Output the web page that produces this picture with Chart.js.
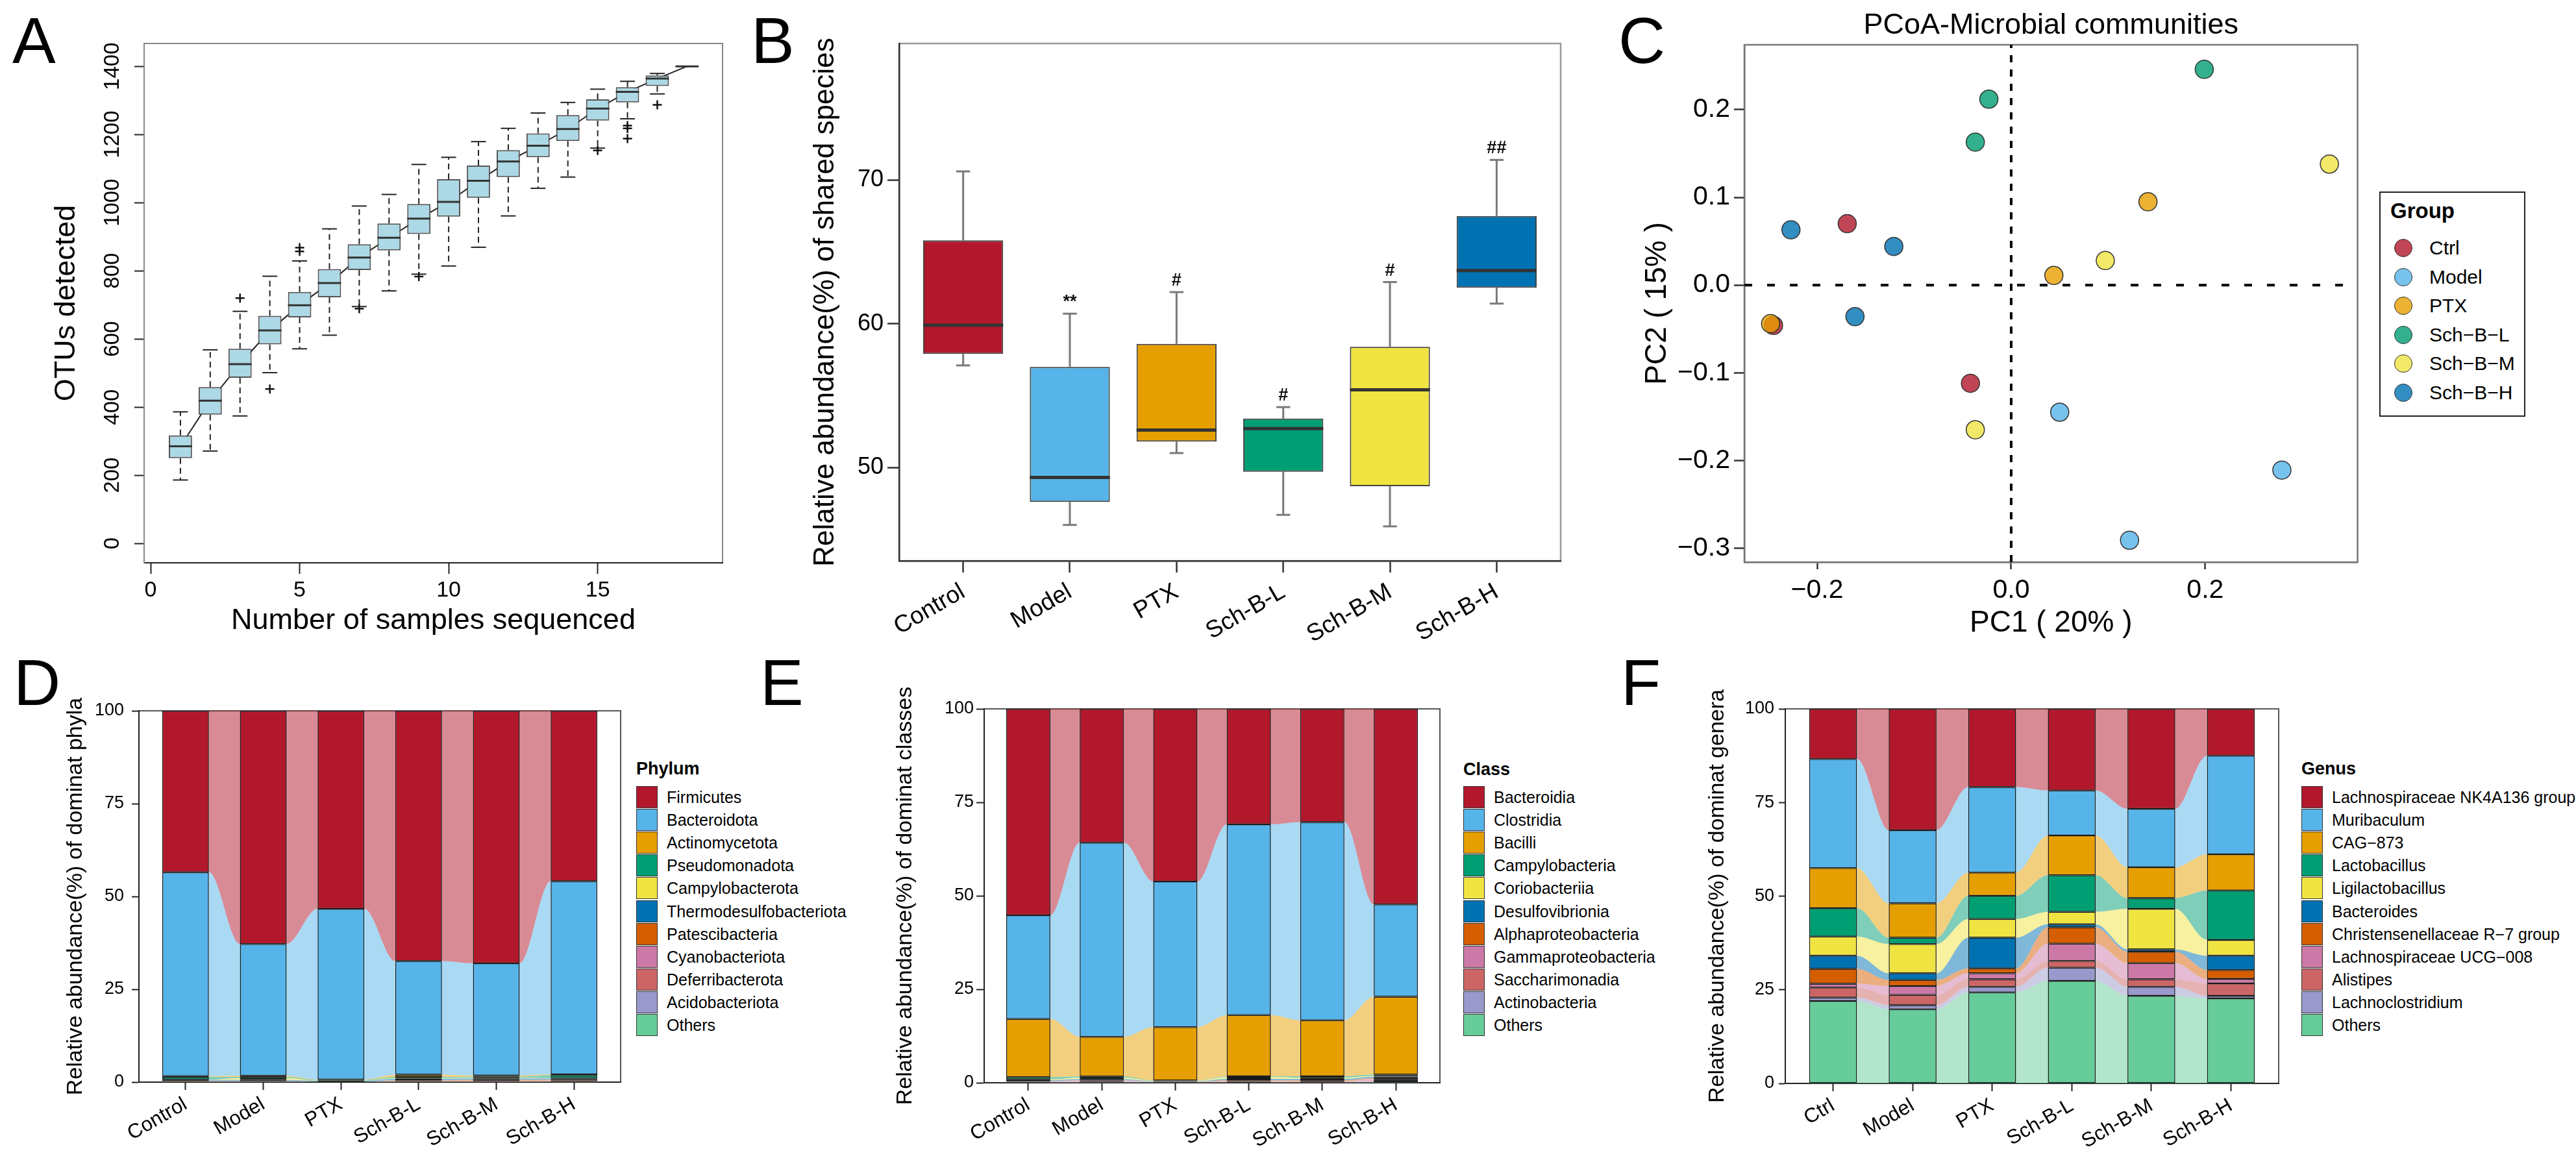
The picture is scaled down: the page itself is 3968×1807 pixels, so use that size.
<!DOCTYPE html>
<html>
<head>
<meta charset="utf-8">
<script src="https://cdn.jsdelivr.net/npm/chart.js@4.4.1/dist/chart.umd.min.js"></script>
<style>
  html, body { margin: 0; padding: 0; background: #fff; }
  body { width: 3968px; height: 1807px; position: relative; overflow: hidden;
         font-family: 'Liberation Sans', Arial, Helvetica, sans-serif; color: #000; }
  canvas { position: absolute; }
  .tag { position: absolute; font-size: 100px; line-height: 100px; }
  .leg-title { position: absolute; font-weight: bold; font-size: 27px; line-height: 34px; white-space: nowrap; }
  .leg-row { position: absolute; height: 34px; line-height: 34px; font-size: 25px; white-space: nowrap; }
  .leg-row .sw { position: absolute; left: 0; top: 0; width: 33px; height: 34px; box-sizing: border-box; border: 1.5px solid #333; }
  .leg-row .lt { position: absolute; left: 47px; top: 0; }
  .cleg { position: absolute; left: 3665px; top: 295px; width: 225px; height: 347px; box-sizing: border-box; border: 2px solid #222; }
  .cleg-title { position: absolute; left: 15px; top: 11px; font-weight: bold; font-size: 33px; line-height: 34px; }
  .cleg-row { position: absolute; left: 0; height: 34px; line-height: 34px; font-size: 30px; white-space: nowrap; }
  .cleg-row .dot { position: absolute; left: 21px; top: 3px; width: 28px; height: 28px; border-radius: 50%; box-sizing: border-box; border: 1.5px solid #333; }
  .cleg-row .lt { position: absolute; left: 75px; top: 0; }
</style>
</head>
<body>
<div class="tag" style="left:19px;top:12px">A</div>
<div class="tag" style="left:1157px;top:12px">B</div>
<div class="tag" style="left:2493px;top:12px">C</div>
<div class="tag" style="left:21px;top:1001px">D</div>
<div class="tag" style="left:1171px;top:1001px">E</div>
<div class="tag" style="left:2497px;top:1001px">F</div>

<canvas id="chartA"></canvas>
<canvas id="chartB"></canvas>
<canvas id="chartC"></canvas>
<canvas id="chartD"></canvas>
<canvas id="chartE"></canvas>
<canvas id="chartF"></canvas>
<div class="cleg" id="legendC"></div>

<script>
// ---- A: OTUs detected vs number of samples (boxplot per sample count) ----
const A_SAMPLES = [1, 2, 3, 4, 5, 6, 7, 8, 9, 10, 11, 12, 13, 14, 15, 16, 17, 18];
const A_LOW  = [186, 271, 374, 501, 571, 611, 695, 741, 790, 814, 869, 961, 1042, 1075, 1160, 1246, 1319, 1400];
const A_Q1   = [250, 378, 486, 584, 663, 722, 802, 860, 908, 959, 1014, 1075, 1133, 1181, 1241, 1294, 1342, 1400];
const A_MED  = [285, 419, 526, 625, 699, 764, 839, 897, 953, 1002, 1064, 1121, 1167, 1216, 1276, 1325, 1364, 1400];
const A_Q3   = [317, 459, 571, 668, 738, 805, 878, 939, 996, 1069, 1109, 1154, 1203, 1257, 1303, 1339, 1373, 1400];
const A_HIGH = [386, 568, 681, 784, 829, 923, 990, 1024, 1112, 1133, 1179, 1218, 1263, 1294, 1333, 1356, 1379, 1400];
const A_OUT_X = [3, 4, 5, 5, 7, 9, 15, 16, 16, 16, 17];
const A_OUT_Y = [720, 453, 868, 857, 689, 783, 1153, 1226, 1218, 1188, 1287];
const A_X_TICKS = [0, 5, 10, 15];
const A_Y_TICKS = [0, 200, 400, 600, 800, 1000, 1200, 1400];

// ---- B: shared species boxplot ----
const GROUPS = ['Control', 'Model', 'PTX', 'Sch-B-L', 'Sch-B-M', 'Sch-B-H'];
const SHARED_LOW  = [57.1, 46.0, 51.0, 46.7, 45.9, 61.4];
const SHARED_Q1   = [57.9, 47.6, 51.8, 49.7, 48.7, 62.5];
const SHARED_MED  = [59.9, 49.3, 52.6, 52.7, 55.4, 63.7];
const SHARED_Q3   = [65.8, 57.0, 58.6, 53.4, 58.4, 67.5];
const SHARED_HIGH = [70.6, 60.7, 62.2, 54.2, 62.9, 71.4];
const SHARED_SIG  = ['', '**', '#', '#', '#', '##'];
const B_Y_TICKS = [50, 60, 70];
const GROUP_COLORS = ['#B2182B', '#56B4E9', '#E69F00', '#009E73', '#F0E442', '#0072B2'];

// ---- C: PCoA ----
const PCOA_GROUPS = ['Ctrl', 'Model', 'PTX', 'Sch\u2212B\u2212L', 'Sch\u2212B\u2212M', 'Sch\u2212B\u2212H'];
const PC1 = [[-0.169, -0.042, -0.245], [0.050, 0.279, 0.122], [0.141, 0.044, -0.248],
             [-0.023, -0.037, 0.199], [0.328, 0.097, -0.037], [-0.227, -0.121, -0.161]];
const PC2 = [[0.070, -0.112, -0.046], [-0.145, -0.211, -0.291], [0.095, 0.011, -0.044],
             [0.212, 0.163, 0.246], [0.138, 0.028, -0.165], [0.063, 0.044, -0.036]];
const C_X_TICKS = [-0.2, 0, 0.2];
const C_Y_TICKS = [-0.3, -0.2, -0.1, 0, 0.1, 0.2];

// ---- D/E/F: relative abundance, rows follow the legend order (top of stack first) ----
const GENUS_GROUPS = ['Ctrl', 'Model', 'PTX', 'Sch-B-L', 'Sch-B-M', 'Sch-B-H'];
const PCT_TICKS = [0, 25, 50, 75, 100];
const TAXA_COLORS = ['#B2182B', '#56B4E9', '#E69F00', '#009E73', '#F0E442', '#0072B2',
                     '#D55E00', '#CC79A7', '#CC6666', '#9999CC', '#66CC99'];

const PHYLA = ['Firmicutes', 'Bacteroidota', 'Actinomycetota', 'Pseudomonadota', 'Campylobacterota',
               'Thermodesulfobacteriota', 'Patescibacteria', 'Cyanobacteriota', 'Deferribacterota',
               'Acidobacteriota', 'Others'];
const PHYLUM_VALUES = [
  [43.5, 62.8, 53.3, 67.4, 68.0, 45.9],
  [54.9, 35.5, 46.0, 30.6, 30.2, 52.0],
  [0.2, 0.3, 0.1, 0.6, 0.3, 0.2],
  [0.7, 0.3, 0.2, 0.3, 0.3, 0.8],
  [0.05, 0.5, 0.05, 0.2, 0.2, 0.1],
  [0.3, 0.3, 0.2, 0.4, 0.4, 0.4],
  [0.1, 0.1, 0.05, 0.2, 0.3, 0.2],
  [0.05, 0.05, 0.02, 0.1, 0.1, 0.1],
  [0.1, 0.05, 0.03, 0.1, 0.1, 0.15],
  [0.02, 0.02, 0.01, 0.02, 0.02, 0.05],
  [0.08, 0.08, 0.04, 0.08, 0.08, 0.1]
];

const CLASSES = ['Bacteroidia', 'Clostridia', 'Bacilli', 'Campylobacteria', 'Coriobacteriia',
                 'Desulfovibrionia', 'Alphaproteobacteria', 'Gammaproteobacteria', 'Saccharimonadia',
                 'Actinobacteria', 'Others'];
const CLASS_VALUES = [
  [55.2, 35.8, 46.2, 30.9, 30.3, 52.3],
  [27.75, 51.9, 38.9, 51.0, 53.0, 24.7],
  [15.55, 10.6, 14.3, 16.35, 14.95, 20.85],
  [0.6, 0.3, 0.1, 0.2, 0.4, 0.3],
  [0.2, 0.4, 0.1, 0.5, 0.3, 0.2],
  [0.3, 0.3, 0.15, 0.4, 0.4, 0.4],
  [0.1, 0.1, 0.05, 0.2, 0.3, 0.2],
  [0.1, 0.2, 0.05, 0.15, 0.1, 0.3],
  [0.1, 0.2, 0.05, 0.15, 0.1, 0.4],
  [0.05, 0.1, 0.05, 0.1, 0.1, 0.2],
  [0.05, 0.1, 0.05, 0.05, 0.05, 0.15]
];

const GENERA = ['Lachnospiraceae NK4A136 group', 'Muribaculum', 'CAG\u2212873', 'Lactobacillus',
                'Ligilactobacillus', 'Bacteroides', 'Christensenellaceae R\u22127 group',
                'Lachnospiraceae UCG\u2212008', 'Alistipes', 'Lachnoclostridium', 'Others'];
const GENUS_VALUES = [
  [13.4, 32.4, 20.9, 21.8, 26.7, 12.5],
  [29.1, 19.5, 22.8, 12.0, 15.6, 26.3],
  [10.7, 9.2, 6.2, 10.6, 8.2, 9.7],
  [7.6, 1.7, 6.2, 9.8, 2.9, 13.2],
  [5.1, 7.8, 5.0, 3.3, 10.8, 4.2],
  [3.5, 1.8, 8.2, 0.8, 0.6, 3.8],
  [4.0, 1.6, 1.3, 4.4, 3.1, 2.4],
  [1.0, 2.4, 1.6, 4.6, 4.3, 1.2],
  [2.7, 2.7, 2.0, 1.8, 2.0, 3.3],
  [0.9, 1.1, 1.5, 3.5, 2.4, 0.7],
  [22.0, 19.8, 24.3, 27.4, 23.4, 22.7]
];

const FONT = "'Liberation Sans', Arial, Helvetica, sans-serif";
Chart.defaults.font.family = FONT;
Chart.defaults.color = '#000';
Chart.defaults.animation = false;
Chart.defaults.plugins.legend.display = false;
Chart.defaults.plugins.tooltip.enabled = false;

function fade(hex, a) {
  const n = parseInt(hex.slice(1), 16);
  return `rgba(${n >> 16}, ${(n >> 8) & 255}, ${n & 255}, ${a})`;
}

function place(id, left, top, width, height) {
  const c = document.getElementById(id);
  c.width = width; c.height = height;
  c.style.left = left + 'px'; c.style.top = top + 'px';
  c.style.width = width + 'px'; c.style.height = height + 'px';
  return c;
}

// pixel half-width of a span given in x units
function halfPx(chart, units) {
  const s = chart.scales.x;
  return Math.abs(s.getPixelForValue(units / 2) - s.getPixelForValue(0));
}

const fixTicks = (list) => (scale) => { scale.ticks = list.map(v => ({ value: v })); };

// panel border round the plotting area
const framePlugin = {
  id: 'frame',
  beforeDraw(chart, args, opts) {
    const a = chart.chartArea, ctx = chart.ctx;
    ctx.save();
    ctx.strokeStyle = opts.color || '#888';
    ctx.lineWidth = opts.width || 2;
    ctx.strokeRect(a.left, a.top, a.right - a.left, a.bottom - a.top);
    ctx.restore();
  }
};

// R-style y tick labels, written bottom-to-top beside the axis
const uprightYTicks = {
  id: 'uprightYTicks',
  afterDraw(chart) {
    const { ctx, scales: { y } } = chart;
    ctx.save();
    ctx.font = '33px ' + FONT;
    ctx.fillStyle = '#000';
    ctx.textAlign = 'center';
    ctx.textBaseline = 'middle';
    y.ticks.forEach(t => {
      ctx.save();
      ctx.translate(y.right - 48, y.getPixelForValue(t.value));
      ctx.rotate(-Math.PI / 2);
      ctx.fillText(String(t.value), 0, 0);
      ctx.restore();
    });
    ctx.restore();
  }
};

function boxplotSets(o) {
  const whiskers = [], caps = [];
  o.xs.forEach((x, i) => {
    whiskers.push({ x, y: o.q3[i] }, { x, y: o.high[i] }, { x, y: null },
                  { x, y: o.q1[i] }, { x, y: o.low[i] }, { x, y: null });
    caps.push({ x, y: o.high[i] }, { x, y: o.low[i] });
  });
  return [
    { type: 'line', data: whiskers, borderColor: o.whiskerColor, borderWidth: o.whiskerWidth,
      borderDash: o.dash, pointRadius: 0, spanGaps: false, order: 6 },
    { type: 'scatter', data: caps, pointStyle: 'line', pointRadius: c => halfPx(c.chart, o.capW),
      pointBorderColor: o.whiskerColor, pointBorderWidth: o.whiskerWidth, order: 5 },
    { type: 'bar', data: o.xs.map((x, i) => ({ x, y: [o.q1[i], o.q3[i]] })), backgroundColor: o.fill,
      borderColor: o.border, borderWidth: o.borderWidth, borderSkipped: false,
      barPercentage: o.boxW, categoryPercentage: 1, order: 4 },
    { type: 'scatter', data: o.xs.map((x, i) => ({ x, y: o.med[i] })), pointStyle: 'line',
      pointRadius: c => halfPx(c.chart, o.boxW), pointBorderColor: o.medColor,
      pointBorderWidth: o.medWidth, order: 3 }
  ];
}

function axisGrid(len, color, width) {
  return { display: true, drawOnChartArea: false, drawTicks: true, tickLength: len,
           tickColor: color, tickWidth: width, offset: false };
}

// ================= A =================
const setsA = boxplotSets({
  xs: A_SAMPLES, low: A_LOW, q1: A_Q1, med: A_MED, q3: A_Q3, high: A_HIGH,
  whiskerColor: '#222', whiskerWidth: 2, dash: [9, 6], capW: 0.5,
  fill: '#ADD8E6', border: '#555', borderWidth: 2, boxW: 0.78, medColor: '#333', medWidth: 3
});
setsA.push({ type: 'line', data: A_SAMPLES.map((n, i) => ({ x: n, y: A_MED[i] })),
             borderColor: '#222', borderWidth: 2, pointRadius: 0, order: 7 });
setsA.push({ type: 'scatter', data: A_OUT_X.map((x, i) => ({ x, y: A_OUT_Y[i] })), pointStyle: 'cross',
             pointRadius: 7, pointBorderColor: '#111', pointBorderWidth: 2.5, order: 2 });

new Chart(place('chartA', 76, 27, 1047, 957), {
  type: 'bar',
  data: { datasets: setsA },
  options: {
    responsive: false, devicePixelRatio: 1,
    layout: { padding: { top: 40, right: 10, left: 0, bottom: 0 } },
    plugins: { frame: { color: '#888', width: 2 } },
    scales: {
      x: { type: 'linear', min: -0.218, max: 19.19, offset: false, bounds: 'data',
           afterBuildTicks: fixTicks(A_X_TICKS), afterFit: s => { s.height = 117; },
           ticks: { font: { size: 34 }, padding: 5, maxRotation: 0, autoSkip: false, callback: v => String(v) },
           grid: axisGrid(17, '#222', 2), border: { display: true, color: '#222', width: 2 },
           title: { display: true, text: 'Number of samples sequenced', font: { size: 45 }, padding: 0 } },
      y: { type: 'linear', min: -57, max: 1467, beginAtZero: false, bounds: 'data',
           afterBuildTicks: fixTicks(A_Y_TICKS), afterFit: s => { s.width = 146; },
           ticks: { display: false },
           grid: axisGrid(15, '#222', 2), border: { display: true, color: '#888', width: 2 },
           title: { display: true, text: 'OTUs detected', font: { size: 45 }, padding: 0 } }
    }
  },
  plugins: [framePlugin, uprightYTicks]
});

// ================= B =================
const setsB = boxplotSets({
  xs: GROUPS.map((g, i) => i + 1), low: SHARED_LOW, q1: SHARED_Q1, med: SHARED_MED, q3: SHARED_Q3,
  high: SHARED_HIGH, whiskerColor: '#7a7a7a', whiskerWidth: 3, dash: [], capW: 0.13,
  fill: GROUP_COLORS, border: '#444', borderWidth: 2, boxW: 0.75, medColor: '#333', medWidth: 5
});

const sigPlugin = {
  id: 'sig',
  afterDatasetsDraw(chart) {
    const { ctx, scales: { x, y } } = chart;
    ctx.save();
    ctx.font = 'bold 27px ' + FONT;
    ctx.fillStyle = '#111';
    ctx.textAlign = 'center';
    ctx.textBaseline = 'alphabetic';
    SHARED_SIG.forEach((t, i) => {
      if (t) ctx.fillText(t, x.getPixelForValue(i + 1), y.getPixelForValue(SHARED_HIGH[i]) - 10);
    });
    ctx.restore();
  }
};

new Chart(place('chartB', 1245, 27, 1169, 967), {
  type: 'bar',
  data: { datasets: setsB },
  options: {
    responsive: false, devicePixelRatio: 1,
    layout: { padding: { top: 40, right: 10, left: 0, bottom: 0 } },
    plugins: { frame: { color: '#999', width: 2.5 } },
    scales: {
      x: { type: 'linear', min: 0.4, max: 6.6, offset: false, bounds: 'data',
           afterBuildTicks: fixTicks(GROUPS.map((g, i) => i + 1)), afterFit: s => { s.height = 130; },
           ticks: { font: { size: 37 }, padding: 8, minRotation: 30, maxRotation: 30, autoSkip: false,
                    callback: v => GROUPS[v - 1] },
           grid: axisGrid(18, '#333', 2.5), border: { display: true, color: '#333', width: 2.5 } },
      y: { type: 'linear', min: 43.5, max: 79.5, beginAtZero: false, bounds: 'data',
           afterBuildTicks: fixTicks(B_Y_TICKS), afterFit: s => { s.width = 140; },
           ticks: { font: { size: 36 }, padding: 6, autoSkip: false, callback: v => String(v) },
           grid: axisGrid(18, '#333', 2.5), border: { display: true, color: '#333', width: 2.5 },
           title: { display: true, text: 'Relative abundance(%) of shared species', font: { size: 44 }, padding: 0 } }
    }
  },
  plugins: [framePlugin, sigPlugin]
});

// ================= C =================
const C_X_MIN = -0.275, C_X_MAX = 0.357, C_Y_MIN = -0.316, C_Y_MAX = 0.274;
const setsC = PCOA_GROUPS.map((g, k) => ({
  type: 'scatter', label: g,
  data: PC1[k].map((x, i) => ({ x, y: PC2[k][i] })),
  pointRadius: 14, pointBackgroundColor: fade(GROUP_COLORS[k], 0.8),
  pointBorderColor: '#333', pointBorderWidth: 1.5, order: 10 - k
}));
setsC.push({ type: 'line', data: [{ x: 0, y: C_Y_MIN }, { x: 0, y: C_Y_MAX }], borderColor: '#000',
             borderWidth: 4, borderDash: [11, 11], pointRadius: 0, order: 20 });
setsC.push({ type: 'line', data: [{ x: C_X_MIN, y: 0 }, { x: C_X_MAX, y: 0 }], borderColor: '#000',
             borderWidth: 4, borderDash: [12, 23], pointRadius: 0, order: 20 });

const fmtC = v => (Math.abs(v) < 1e-9 ? '0.0' : v.toFixed(1).replace('-', '\u2212'));
new Chart(place('chartC', 2526, 0, 1121, 988), {
  type: 'scatter',
  data: { datasets: setsC },
  options: {
    responsive: false, devicePixelRatio: 1,
    layout: { padding: { top: 0, right: 10, left: 0, bottom: 0 } },
    plugins: {
      frame: { color: '#777', width: 2.5 },
      title: { display: true, text: 'PCoA-Microbial communities', font: { size: 45, weight: 'normal' },
               padding: { top: 13, bottom: 2 }, fullSize: false, color: '#000' }
    },
    scales: {
      x: { type: 'linear', min: C_X_MIN, max: C_X_MAX, bounds: 'data',
           afterBuildTicks: fixTicks(C_X_TICKS), afterFit: s => { s.height = 122; },
           ticks: { font: { size: 41 }, padding: 8, maxRotation: 0, autoSkip: false, callback: fmtC },
           grid: axisGrid(11, '#333', 2.5), border: { display: true, color: '#777', width: 2.5 },
           title: { display: true, text: 'PC1 ( 20% )', font: { size: 46 }, padding: 0 } },
      y: { type: 'linear', min: C_Y_MIN, max: C_Y_MAX, bounds: 'data',
           afterBuildTicks: fixTicks(C_Y_TICKS), afterFit: s => { s.width = 161; },
           ticks: { font: { size: 41 }, padding: 6, autoSkip: false, callback: fmtC },
           grid: axisGrid(16, '#333', 2.5), border: { display: true, color: '#777', width: 2.5 },
           title: { display: true, text: 'PC2 ( 15% )', font: { size: 46 }, padding: 0 } }
    }
  },
  plugins: [framePlugin]
});

// ================= D / E / F: stacked bars joined by alluvial flows =================
const BAR_W = 0.6;
function alluvialSets(rows, colors) {
  const lines = [], bars = [];
  const bottomUp = rows.map((r, k) => k).reverse();
  bottomUp.forEach((k, j) => {
    const vals = rows[k];
    const pts = [];
    vals.forEach((v, i) => { pts.push({ x: i + 1 - BAR_W / 2, y: v }, { x: i + 1 + BAR_W / 2, y: v }); });
    lines.push({ type: 'line', data: pts, stack: 'flow', fill: j === 0 ? 'origin' : '-1',
                 backgroundColor: fade(colors[k], 0.5), borderColor: 'rgba(0,0,0,0)', borderWidth: 0,
                 pointRadius: 0, cubicInterpolationMode: 'monotone', order: 2 });
    bars.push({ type: 'bar', data: vals.map((v, i) => ({ x: i + 1, y: v })), stack: 'bars',
                backgroundColor: colors[k], borderColor: '#1a1a1a', borderWidth: 1.5, borderSkipped: false,
                barPercentage: BAR_W, categoryPercentage: 1, order: 1 });
  });
  return lines.concat(bars);
}

function abundanceChart(id, box, o) {
  return new Chart(place(id, box[0], box[1], box[2], box[3]), {
    type: 'bar',
    data: { datasets: alluvialSets(o.rows, TAXA_COLORS) },
    options: {
      responsive: false, devicePixelRatio: 1,
      layout: { padding: { top: 40, right: 10, left: 0, bottom: 0 } },
      plugins: { frame: { color: '#555', width: 2 } },
      scales: {
        x: { type: 'linear', min: 0.4, max: 6.6, offset: false, bounds: 'data',
             afterBuildTicks: fixTicks(o.groups.map((g, i) => i + 1)), afterFit: s => { s.height = 125; },
             ticks: { font: { size: 31 }, padding: 4, minRotation: 30, maxRotation: 30, autoSkip: false,
                      callback: v => o.groups[v - 1] },
             grid: axisGrid(12, '#222', 2), border: { display: true, color: '#222', width: 2 } },
        y: { type: 'linear', min: 0, max: 100, stacked: true, beginAtZero: false, bounds: 'data',
             afterBuildTicks: fixTicks(PCT_TICKS), afterFit: s => { s.width = o.yw; },
             ticks: { font: { size: 27 }, padding: o.tickPad, autoSkip: false, callback: v => String(v) },
             grid: axisGrid(o.tickLen, '#222', 2), border: { display: true, color: '#222', width: 2 },
             title: { display: true, text: o.yTitle, font: { size: 34 }, padding: 0 } }
      }
    },
    plugins: [framePlugin]
  });
}

abundanceChart('chartD', [96, 1055, 870, 737], {
  rows: PHYLUM_VALUES, groups: GROUPS, yw: 118, tickPad: 12, tickLen: 11,
  yTitle: 'Relative abundance(%) of dominat phyla'
});
abundanceChart('chartE', [1374, 1052, 854, 741], {
  rows: CLASS_VALUES, groups: GROUPS, yw: 142, tickPad: 4, tickLen: 12,
  yTitle: 'Relative abundance(%) of dominat classes'
});
abundanceChart('chartF', [2625, 1052, 895, 742], {
  rows: GENUS_VALUES, groups: GENUS_GROUPS, yw: 125, tickPad: 7, tickLen: 10,
  yTitle: 'Relative abundance(%) of dominat genera'
});

// ---- legends ----
const LEG_STEP = 35.1;
function squareLegend(x, titleY, firstY, title, names, colors) {
  const t = document.createElement('div');
  t.className = 'leg-title';
  t.textContent = title;
  t.style.left = x + 'px';
  t.style.top = (titleY - 17) + 'px';
  document.body.appendChild(t);
  names.forEach((n, i) => {
    const row = document.createElement('div');
    row.className = 'leg-row';
    row.style.left = x + 'px';
    row.style.top = (firstY + i * LEG_STEP - 17) + 'px';
    row.innerHTML = `<span class="sw" style="background:${colors[i]}"></span><span class="lt">${n}</span>`;
    document.body.appendChild(row);
  });
}
squareLegend(980, 1184, 1228, 'Phylum', PHYLA, TAXA_COLORS);
squareLegend(2254, 1185, 1228, 'Class', CLASSES, TAXA_COLORS);
squareLegend(3545, 1184, 1228, 'Genus', GENERA, TAXA_COLORS);

const legC = document.getElementById('legendC');
legC.innerHTML = '<div class="cleg-title">Group</div>' + PCOA_GROUPS.map((g, i) =>
  `<div class="cleg-row" style="top:${85 + i * 44.6 - 17}px"><span class="dot" style="background:${fade(GROUP_COLORS[i], 0.8)}"></span><span class="lt">${g}</span></div>`
).join('');
</script>
</body>
</html>
